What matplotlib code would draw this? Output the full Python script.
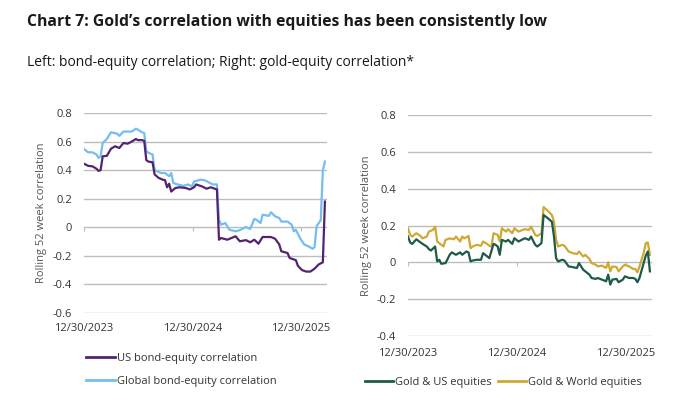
import numpy as np
import pandas as pd
import matplotlib
matplotlib.use("Agg")
import matplotlib.pyplot as plt
from matplotlib.lines import Line2D

plt.rcParams['font.family'] = ['Open Sans', 'DejaVu Sans']

start = pd.Timestamp("2023-12-30")
tick_dates = [pd.Timestamp("2023-12-30"), pd.Timestamp("2024-12-30"), pd.Timestamp("2025-12-30")]
tick_labels = ["12/30/2023", "12/30/2024", "12/30/2025"]

# weeks since 12/30/2023 and readings (left chart)
us_wk = [0, 2, 4, 6, 7, 8, 9, 11, 13, 15, 17, 19, 21, 23, 25, 26, 28, 29, 30, 31, 33, 34, 36, 38, 39,
         40, 41, 42, 44, 46, 49, 51, 53, 54, 57, 59, 61, 63, 64, 65, 66, 69, 71, 73, 75, 78, 80, 82,
         84, 86, 88, 90, 92, 94, 95, 98, 99, 102, 103, 105, 107, 109, 111, 113, 115, 116]
us_bond = [0.445, 0.43, 0.427, 0.41, 0.395, 0.40, 0.497, 0.50, 0.55, 0.567, 0.555, 0.59, 0.585, 0.60,
           0.618, 0.61, 0.61, 0.605, 0.47, 0.46, 0.455, 0.37, 0.345, 0.333, 0.33, 0.28, 0.305, 0.25,
           0.275, 0.28, 0.275, 0.265, 0.28, 0.30, 0.285, 0.27, 0.28, 0.27, 0.265, -0.087, -0.075,
           -0.087, -0.075, -0.063, -0.098, -0.09, -0.105, -0.087, -0.115, -0.068, -0.068, -0.068,
           -0.08, -0.12, -0.168, -0.18, -0.215, -0.23, -0.27, -0.30, -0.31, -0.31, -0.29, -0.26,
           -0.245, 0.18]

gl_wk = [0, 2, 4, 6, 7, 8, 9, 11, 13, 16, 17, 19, 21, 23, 25, 26, 28, 29, 30, 32, 33, 34, 37, 39,
         41, 42, 43, 45, 48, 50, 52, 53, 56, 58, 60, 62, 64, 65, 66, 68, 70, 73, 75, 78, 80, 82, 83,
         85, 86, 89, 90, 92, 94, 95, 98, 100, 101, 102, 104, 106, 108, 110, 111, 112, 114, 115, 116]
global_bond = [0.548, 0.525, 0.525, 0.51, 0.485, 0.497, 0.59, 0.618, 0.665, 0.655, 0.64, 0.67, 0.67,
               0.67, 0.69, 0.683, 0.665, 0.66, 0.53, 0.515, 0.51, 0.40, 0.38, 0.38, 0.357, 0.38,
               0.31, 0.30, 0.29, 0.30, 0.287, 0.32, 0.333, 0.33, 0.315, 0.30, 0.30, 0.053, 0.018,
               0.03, -0.017, -0.028, -0.02, 0.002, -0.012, 0.058, 0.053, 0.03, 0.088, 0.08, 0.105,
               0.077, 0.065, 0.04, 0.04, 0.018, -0.028, -0.017, -0.075, -0.12, -0.133, -0.15, -0.14,
               0.007, 0.05, 0.40, 0.46]

# right chart
gold_wk = [0, 1, 2, 4, 6, 7, 9, 10, 12, 13, 14, 15, 17, 18, 20, 22, 23, 25, 26, 27, 29, 30, 31, 33,
           35, 36, 38, 39, 40, 41, 43, 44, 45, 47, 48, 50, 51, 53, 55, 56, 58, 59, 61, 62, 64, 65,
           67, 69, 70, 71, 72, 74, 75, 77, 79, 81, 82, 84, 85, 87, 88, 90, 91, 93, 95, 96, 97, 98,
           100, 101, 103, 104, 106, 108, 109, 110, 111, 113, 114, 115, 116]
gold_world = [0.185, 0.149, 0.14, 0.158, 0.143, 0.13, 0.14, 0.167, 0.176, 0.194, 0.113, 0.104, 0.086,
              0.122, 0.13, 0.125, 0.14, 0.113, 0.14, 0.13, 0.143, 0.077, 0.086, 0.095, 0.09, 0.113,
              0.10, 0.09, 0.086, 0.158, 0.149, 0.113, 0.185, 0.167, 0.18, 0.158, 0.185, 0.167, 0.176,
              0.18, 0.176, 0.194, 0.149, 0.143, 0.158, 0.30, 0.28, 0.257, 0.22, 0.122, 0.086, 0.095,
              0.09, 0.059, 0.05, 0.045, 0.059, 0.032, 0.041, 0.018, -0.004, -0.013, -0.022, -0.018,
              -0.03, 0.0, -0.049, -0.022, -0.026, -0.049, -0.022, -0.013, -0.022, -0.036, -0.036,
              -0.054, -0.022, 0.05, 0.104, 0.108, 0.041]

us_gwk = [0, 1, 2, 4, 6, 7, 9, 10, 11, 13, 14, 15, 16, 18, 20, 21, 23, 25, 26, 28, 29, 30, 31, 33,
          35, 36, 38, 39, 41, 42, 43, 44, 45, 47, 48, 50, 51, 53, 55, 56, 58, 59, 61, 62, 64, 65,
          67, 69, 70, 71, 72, 74, 75, 77, 79, 81, 82, 84, 85, 87, 88, 90, 91, 93, 95, 96, 97, 98,
          100, 101, 103, 104, 106, 108, 109, 110, 111, 113, 114, 115, 116]
gold_us = [0.14, 0.108, 0.10, 0.125, 0.108, 0.10, 0.086, 0.072, 0.064, 0.086, 0.005, 0.014, -0.008,
           -0.004, 0.041, 0.054, 0.041, 0.054, 0.041, 0.059, 0.054, 0.005, 0.01, 0.014, 0.014, 0.05,
           0.032, 0.023, 0.10, 0.095, 0.086, 0.041, 0.122, 0.113, 0.122, 0.10, 0.131, 0.113, 0.125,
           0.131, 0.122, 0.14, 0.095, 0.086, 0.104, 0.257, 0.24, 0.22, 0.14, 0.023, 0.005, 0.014,
           0.01, -0.022, -0.026, -0.031, -0.004, -0.04, -0.049, -0.067, -0.085, -0.09, -0.085,
           -0.094, -0.103, -0.067, -0.121, -0.094, -0.09, -0.108, -0.094, -0.076, -0.085, -0.085,
           -0.09, -0.108, -0.085, -0.004, 0.036, 0.059, -0.049]


def to_dates(weeks):
    return start + pd.to_timedelta(np.array(weeks) * 7, unit="D")


purple = "#52246f"
blue = "#74bdf0"
green = "#1d5b48"
gold = "#cfa834"
grid_c = "#bdbdbd"
text_c = "#333333"

fig = plt.figure(figsize=(6.89, 4.09), dpi=100)
fig.text(27 / 689, 1 - 22 / 409, "Chart 7: Gold\u2019s correlation with equities has been consistently low",
         fontsize=11.3, fontweight="bold", color="#1a1a1a", va="center")
fig.text(27 / 689, 1 - 62 / 409, "Left: bond-equity correlation; Right: gold-equity correlation*",
         fontsize=10, color="#1a1a1a", va="center")

ax1 = fig.add_axes([84 / 689, 1 - 313 / 409, 243 / 689, 200 / 409])
ax2 = fig.add_axes([408 / 689, 1 - 336 / 409, 244 / 689, 221 / 409])

ax1.plot(to_dates(gl_wk), global_bond, color=blue, lw=1.6, zorder=3)
ax1.plot(to_dates(us_wk), us_bond, color=purple, lw=1.6, zorder=4)
ax2.plot(to_dates(gold_wk), gold_world, color=gold, lw=1.6, zorder=3)
ax2.plot(to_dates(us_gwk), gold_us, color=green, lw=1.6, zorder=4)

ax1.set_ylim(-0.6, 0.8)
ax1.set_yticks([-0.6, -0.4, -0.2, 0, 0.2, 0.4, 0.6, 0.8])
ax1.set_yticklabels(["-0.6", "-0.4", "-0.2", "0", "0.2", "0.4", "0.6", "0.8"])
ax2.set_ylim(-0.4, 0.8)
ax2.set_yticks([-0.4, -0.2, 0, 0.2, 0.4, 0.6, 0.8])
ax2.set_yticklabels(["-0.4", "-0.2", "0", "0.2", "0.4", "0.6", "0.8"])

end = start + pd.Timedelta(days=7 * 117)
for ax, zero_frac, xpad in [(ax1, 0.6 / 1.4, 7), (ax2, 0.4 / 1.2, 8.5)]:
    ax.set_xlim(start, end)
    ax.set_xticks(tick_dates)
    ax.set_xticklabels(tick_labels)
    for s in ax.spines.values():
        s.set_visible(False)
    ax.grid(axis="y", color=grid_c, lw=1.0, zorder=1)
    ax.set_axisbelow(True)
    ax.tick_params(axis="both", length=0, labelsize=8, colors=text_c)
    ax.tick_params(axis="x", pad=xpad)
    ax.tick_params(axis="y", pad=8.5)
    ax.set_ylabel("Rolling 52 week correlation", fontsize=8, color="#555555")
    sec = ax.secondary_xaxis(zero_frac)
    sec.set_xticks(tick_dates)
    sec.set_xticklabels([])
    sec.tick_params(length=3, width=0.8, color=grid_c)
    sec.spines["bottom"].set_visible(False)
    sec.spines["top"].set_visible(False)

ax1.yaxis.set_label_coords(-37 / 243, 0.5)
ax2.yaxis.set_label_coords(-36 / 244, 0.5)

h_us = Line2D([], [], color=purple, lw=2)
h_gl = Line2D([], [], color=blue, lw=2)
h_gu = Line2D([], [], color=green, lw=2)
h_gw = Line2D([], [], color=gold, lw=2)

fig.legend([h_us, h_gl], ["US bond-equity correlation", "Global bond-equity correlation"],
           loc="upper left", bbox_to_anchor=(76 / 689, 1 - 343 / 409), frameon=False,
           fontsize=8, handlelength=2.6, handletextpad=0.15, labelspacing=1.05,
           labelcolor=text_c)
fig.legend([h_gu, h_gw], ["Gold & US equities", "Gold & World equities"], ncol=2,
           loc="upper left", bbox_to_anchor=(355 / 689, 1 - 367 / 409), frameon=False,
           fontsize=8, handlelength=2.5, handletextpad=0.2, columnspacing=0.6,
           labelcolor=text_c)

fig.savefig("out.png", dpi=100)
